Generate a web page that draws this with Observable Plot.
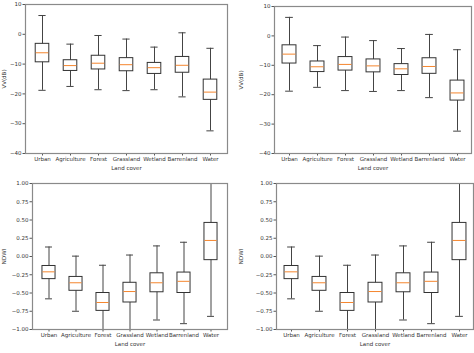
<!DOCTYPE html>
<html><head><meta charset="utf-8">
<script src="https://cdn.jsdelivr.net/npm/d3@7"></script>
<script src="https://cdn.jsdelivr.net/npm/@observablehq/plot@0.6"></script>
<style>
body{margin:0;background:#fff}
#wrap{position:relative;width:474px;height:353px;overflow:hidden;background:#fff}
.panel{position:absolute}
</style></head><body><div id="wrap"></div>
<script>
const categories = ["Urban","Agriculture","Forest","Grassland","Wetland","Barrenland","Water"];

// VV (dB) box statistics
const vvLow  = [-18.8, -17.5, -18.6, -18.9, -18.6, -21.0, -32.4];
const vvQ1   = [-9.4, -12.3, -11.8, -12.4, -13.3, -12.9, -22.0];
const vvMed  = [-6.2, -10.5, -9.7, -10.2, -11.2, -10.4, -19.4];
const vvQ3   = [-3.2, -8.7, -7.2, -8.0, -9.6, -7.6, -15.2];
const vvHigh = [6.3, -3.3, -0.4, -1.6, -4.3, 0.5, -4.7];

// NDWI box statistics
const ndLow  = [-0.58, -0.75, -1.00, -1.00, -0.87, -0.92, -0.82];
const ndQ1   = [-0.31, -0.47, -0.745, -0.63, -0.49, -0.50, -0.05];
const ndMed  = [-0.21, -0.36, -0.63, -0.48, -0.36, -0.34, 0.22];
const ndQ3   = [-0.13, -0.28, -0.50, -0.36, -0.23, -0.22, 0.46];
const ndHigh = [0.13, 0.005, -0.12, 0.02, 0.145, 0.195, 1.00];

const vvTicks = [-40, -30, -20, -10, 0, 10];
const ndTicks = [-1, -0.75, -0.5, -0.25, 0, 0.25, 0.5, 0.75, 1];

function table(low, q1, med, q3, high) {
  return categories.map((c, i) => ({cat: c, low: low[i], q1: q1[i], med: med[i], q3: q3[i], high: high[i]}));
}

function panel({data, left, top, width, height, ml, mr, mt, mb, yDomain, yTicks, yFormat, yLabel}) {
  const bw = (width - ml - mr) / categories.length;
  const bi = bw * 0.25, ci = bw * 0.36;
  const svg = Plot.plot({
    width, height,
    marginLeft: ml, marginRight: mr, marginTop: mt, marginBottom: mb,
    style: {fontFamily: "DejaVu Sans, sans-serif", fontSize: "5.5px", color: "#333", background: "white", overflow: "visible"},
    x: {type: "band", domain: categories, padding: 0, label: null},
    y: {domain: yDomain, label: null},
    marks: [
      Plot.axisX({tickSize: 2.5, tickPadding: 1.5, stroke: "#555", label: "Land cover", labelAnchor: "center", labelOffset: 16, labelArrow: "none"}),
      Plot.axisY({ticks: yTicks, tickFormat: yFormat, tickSize: 2.5, tickPadding: 1.5, stroke: "#555", label: yLabel, labelAnchor: "center", labelOffset: ml - 2, labelArrow: "none"}),
      Plot.ruleX(data, {x: "cat", y1: "low", y2: "high", stroke: "#444", strokeWidth: 1}),
      Plot.tickY(data, {x: "cat", y: "low", stroke: "#444", strokeWidth: 1, insetLeft: ci, insetRight: ci}),
      Plot.tickY(data, {x: "cat", y: "high", stroke: "#444", strokeWidth: 1, insetLeft: ci, insetRight: ci}),
      Plot.barY(data, {x: "cat", y1: "q1", y2: "q3", fill: "white", stroke: "#333", strokeWidth: 1, insetLeft: bi, insetRight: bi}),
      Plot.tickY(data, {x: "cat", y: "med", stroke: "#f5862e", strokeWidth: 1, insetLeft: bi + 0.5, insetRight: bi + 0.5}),
      Plot.frame({stroke: "#8a8a8a", strokeWidth: 1.2})
    ]
  });
  svg.classList.add("panel");
  svg.style.left = left + "px";
  svg.style.top = top + "px";
  document.getElementById("wrap").appendChild(svg);
}

const vvData = table(vvLow, vvQ1, vvMed, vvQ3, vvHigh);
const ndData = table(ndLow, ndQ1, ndMed, ndQ3, ndHigh);
const f2 = d3.format(".2f");
const fvv = d => d3.format("d")(d);

panel({data: vvData, left: 0, top: 0, width: 237, height: 176, ml: 25, mr: 10, mt: 4, mb: 23,
  yDomain: [-40, 10], yTicks: vvTicks, yFormat: fvv, yLabel: "VV(dB)"});
panel({data: vvData, left: 237, top: 0, width: 237, height: 176, ml: 37, mr: 3, mt: 6, mb: 23,
  yDomain: [-40, 10], yTicks: vvTicks, yFormat: fvv, yLabel: "VV(dB)"});
panel({data: ndData, left: 0, top: 176, width: 237, height: 177, ml: 32, mr: 10, mt: 7, mb: 24,
  yDomain: [-1, 1], yTicks: ndTicks, yFormat: f2, yLabel: "NDWI"});
panel({data: ndData, left: 237, top: 176, width: 237, height: 177, ml: 39, mr: 1, mt: 7, mb: 24,
  yDomain: [-1, 1], yTicks: ndTicks, yFormat: f2, yLabel: "NDWI"});
</script></body></html>
